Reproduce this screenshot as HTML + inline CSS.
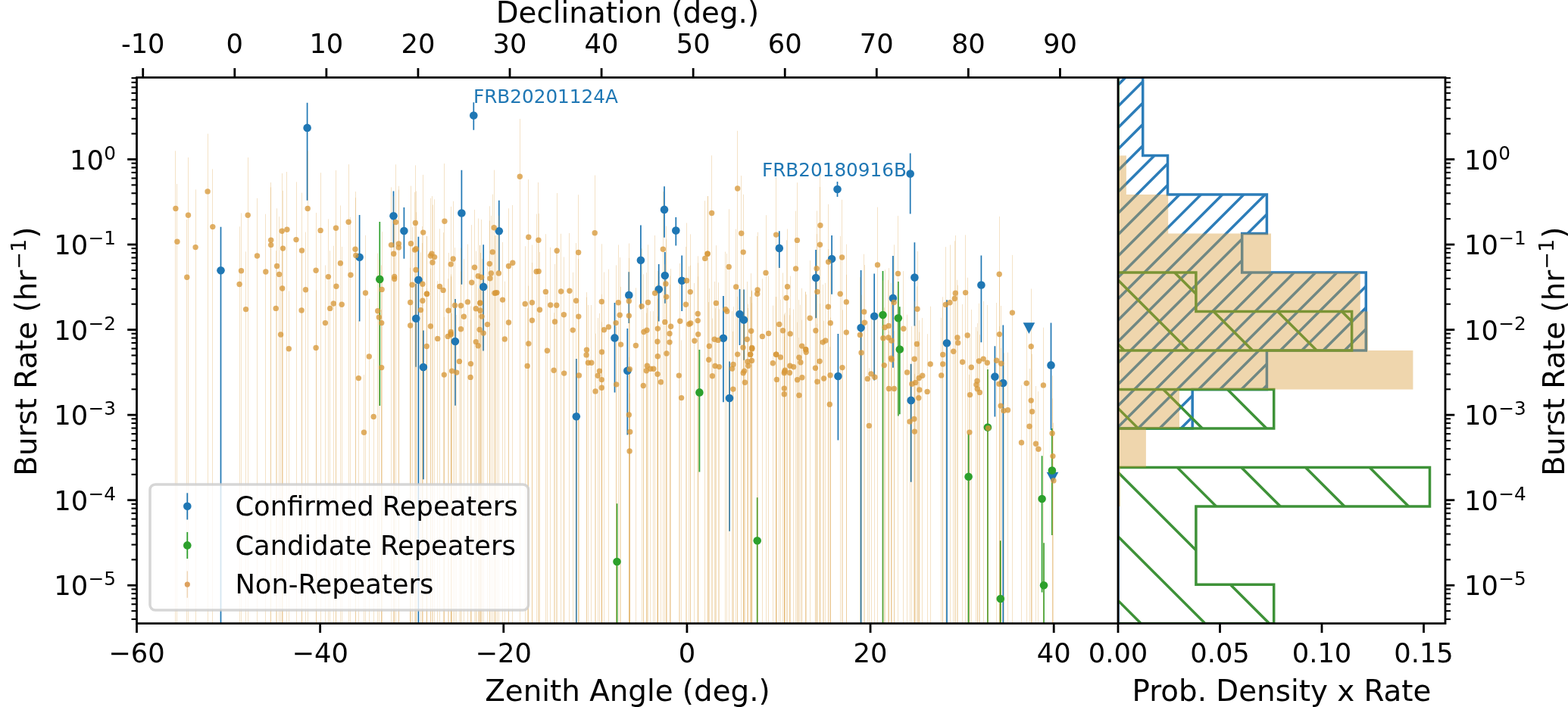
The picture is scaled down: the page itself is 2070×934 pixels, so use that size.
<!DOCTYPE html>
<html lang="en"><head><meta charset="utf-8"><title>Burst Rate vs Zenith Angle</title>
<style>html,body{margin:0;padding:0;background:#fff}body{width:2070px;height:934px;overflow:hidden}svg{display:block}</style>
</head><body>
<svg width="2070" height="934" viewBox="0 0 2070 934" font-family="'DejaVu Sans', 'Liberation Sans', sans-serif">
<rect width="2070" height="934" fill="#fff"/>
<defs>
<clipPath id="cl"><rect x="180.5" y="102.3" width="1295.5" height="721.4000000000001"/></clipPath>
<clipPath id="cr"><rect x="1476.0" y="102.3" width="432.0" height="721.4000000000001"/></clipPath>
<clipPath id="cb"><path d="M1476.0 102.3 L1508.7 102.3 L1508.7 153.8 L1508.7 153.8 L1508.7 205.4 L1541.5 205.4 L1541.5 256.9 L1672.4 256.9 L1672.4 308.4 L1639.7 308.4 L1639.7 359.9 L1803.3 359.9 L1803.3 411.5 L1803.3 411.5 L1803.3 463.0 L1672.4 463.0 L1672.4 514.5 L1574.2 514.5 L1574.2 566.1 L1476.0 566.1 L1476.0 617.6 L1476.0 617.6 L1476.0 669.1 L1476.0 669.1 L1476.0 720.6 L1476.0 720.6 L1476.0 772.2 L1476.0 772.2 L1476.0 823.7 L1476.0 823.7Z"/></clipPath><clipPath id="cg"><path d="M1476.0 102.3 L1476.0 102.3 L1476.0 153.8 L1476.0 153.8 L1476.0 205.4 L1476.0 205.4 L1476.0 256.9 L1476.0 256.9 L1476.0 308.4 L1476.0 308.4 L1476.0 359.9 L1578.9 359.9 L1578.9 411.5 L1784.6 411.5 L1784.6 463.0 L1476.0 463.0 L1476.0 514.5 L1681.7 514.5 L1681.7 566.1 L1476.0 566.1 L1476.0 617.6 L1887.5 617.6 L1887.5 669.1 L1578.9 669.1 L1578.9 720.6 L1578.9 720.6 L1578.9 772.2 L1681.7 772.2 L1681.7 823.7 L1476.0 823.7Z"/></clipPath>
</defs>
<g clip-path="url(#cl)">
<path d="M405.6 135.7V264.8M291.5 299.8V823.7M474.6 284.0V424.6M625.3 135.3V171.7M609.4 224.8V375.7M519.5 252.5V326.6M533.4 273.9V341.8M658.8 264.8V358.2M552.4 312.7V823.7M549.2 375.0V484.8M558.9 436.5V633.3M638.2 323.2V463.5M600.9 394.9V535.7M830.3 359.2V427.0M811.5 399.9V518.4M828.3 434.1V574.5M760.8 473.9V823.7M877.0 246.2V313.7M1105.5 239.9V260.1M892.3 286.9V324.4M845.9 297.4V408.4M877.8 333.1V400.8M869.7 348.9V424.6M900.2 337.4V411.1M954.9 390.9V531.3M976.5 382.0V455.9M982.0 382.6V475.8M1028.8 305.2V353.9M1077.1 329.9V420.3M1098.1 311.1V388.8M1136.6 356.9V823.7M1154.2 361.6V502.6M963.0 477.4V701.8M1106.4 441.0V581.6M1201.7 202.4V282.6M1207.4 320.2V430.6M1178.9 338.0V485.8M1295.4 337.4V452.3M1250.0 396.3V823.7M1202.7 480.8V636.7M1313.4 457.3V550.5M1324.3 429.6V823.7M1387.5 426.6V568.0" stroke="#1f77b4" stroke-width="1.7" fill="none"/><path d="M501.3 292.9V535.9M814.5 665.2V823.7M923.4 461.9V623.6M999.7 657.2V823.7M1165.5 357.9V823.7M1185.8 372.1V549.5M1187.8 405.2V547.2M1278.6 572.9V823.7M1303.9 488.1V823.7M1375.6 602.2V782.6M1378.0 717.3V823.7M1320.8 714.3V823.7M1388.9 566.0V707.0" stroke="#2ca02c" stroke-width="1.7" fill="none"/><g stroke="#d79832" stroke-opacity="0.28" stroke-width="1.0" fill="none"><path d="M231.5 199.3V823.7"/><path d="M248.5 208.0V823.7"/><path d="M274.5 176.7V823.7"/><path d="M327.5 208.0V823.7"/><path d="M406.5 199.3V823.7"/><path d="M280.5 223.4V823.7"/><path d="M233.5 243.0V823.7"/><path d="M258.5 250.4V823.7"/><path d="M246.5 290.0V823.7"/><path d="M339.5 261.8V823.7"/><path d="M357.5 241.0V823.7"/><path d="M357.5 247.4V823.7"/><path d="M372.5 229.0V823.7"/><path d="M378.5 227.0V823.7"/><path d="M373.5 251.9V823.7"/><path d="M391.5 240.4V823.7"/><path d="M398.5 254.7V823.7"/><path d="M423.5 228.2V823.7"/><path d="M443.5 225.0V823.7"/><path d="M460.5 217.1V823.7"/><path d="M469.5 253.1V823.7"/><path d="M469.5 261.2V823.7"/><path d="M449.5 271.5V823.7"/><path d="M365.5 275.3V823.7"/><path d="M368.5 286.2V823.7"/><path d="M350.5 282.8V823.7"/><path d="M318.5 281.5V823.7"/><path d="M316.5 299.3V823.7"/><path d="M372.5 304.8V823.7"/><path d="M403.5 306.6V823.7"/><path d="M417.5 281.1V823.7"/><path d="M433.5 289.4V823.7"/><path d="M443.5 302.1V823.7"/><path d="M462.5 287.0V823.7"/><path d="M482.5 310.8V823.7"/><path d="M504.5 306.2V823.7"/><path d="M440.5 324.8V823.7"/><path d="M451.5 326.0V823.7"/><path d="M435.5 331.2V823.7"/><path d="M398.5 333.8V823.7"/><path d="M364.5 331.2V823.7"/><path d="M324.5 332.4V823.7"/><path d="M429.5 350.4V823.7"/><path d="M370.5 365.8V823.7"/><path d="M381.5 384.5V823.7"/><path d="M417.5 383.3V823.7"/><path d="M498.5 334.5V823.7"/><path d="M500.5 342.9V823.7"/><path d="M503.5 350.4V823.7"/><path d="M487.5 394.7V823.7"/><path d="M503.5 409.4V823.7"/><path d="M473.5 423.4V823.7"/><path d="M493.5 474.3V823.7"/><path d="M480.5 495.1V823.7"/><path d="M686.5 157.1V823.7"/><path d="M522.5 217.3V823.7"/><path d="M548.5 218.3V823.7"/><path d="M586.5 216.1V823.7"/><path d="M652.5 224.6V823.7"/><path d="M558.5 230.9V823.7"/><path d="M697.5 237.1V823.7"/><path d="M710.5 241.0V823.7"/><path d="M785.5 231.5V823.7"/><path d="M516.5 247.4V823.7"/><path d="M526.5 245.8V823.7"/><path d="M526.5 250.7V823.7"/><path d="M542.5 245.6V823.7"/><path d="M547.5 253.9V823.7"/><path d="M549.5 252.5V823.7"/><path d="M519.5 259.1V823.7"/><path d="M735.5 255.1V823.7"/><path d="M763.5 257.3V823.7"/><path d="M650.5 256.7V823.7"/><path d="M570.5 259.1V823.7"/><path d="M568.5 261.8V823.7"/><path d="M573.5 263.4V823.7"/><path d="M598.5 265.8V823.7"/><path d="M571.5 270.6V823.7"/><path d="M595.5 272.9V823.7"/><path d="M646.5 272.3V823.7"/><path d="M676.5 271.0V823.7"/><path d="M671.5 275.3V823.7"/><path d="M626.5 277.1V823.7"/><path d="M549.5 280.3V823.7"/><path d="M648.5 284.8V823.7"/><path d="M658.5 284.8V823.7"/><path d="M708.5 282.6V823.7"/><path d="M711.5 282.2V823.7"/><path d="M520.5 289.2V823.7"/><path d="M520.5 292.3V823.7"/><path d="M631.5 288.6V823.7"/><path d="M635.5 290.0V823.7"/><path d="M646.5 291.6V823.7"/><path d="M544.5 300.1V823.7"/><path d="M557.5 299.1V823.7"/><path d="M622.5 297.1V823.7"/><path d="M580.5 302.3V823.7"/><path d="M585.5 307.2V823.7"/><path d="M563.5 312.0V823.7"/><path d="M653.5 311.0V823.7"/><path d="M656.5 310.4V823.7"/><path d="M720.5 309.2V823.7"/><path d="M740.5 308.8V823.7"/><path d="M751.5 308.0V823.7"/><path d="M541.5 323.3V823.7"/><path d="M557.5 321.1V823.7"/><path d="M617.5 322.7V823.7"/><path d="M663.5 319.9V823.7"/><path d="M633.5 324.0V823.7"/><path d="M693.5 325.2V823.7"/><path d="M702.5 323.5V823.7"/><path d="M760.5 321.1V823.7"/><path d="M794.5 322.3V823.7"/><path d="M816.5 323.5V823.7"/><path d="M830.5 321.5V823.7"/><path d="M600.5 327.2V823.7"/><path d="M608.5 327.6V823.7"/><path d="M726.5 326.8V823.7"/><path d="M734.5 327.0V823.7"/><path d="M628.5 331.6V823.7"/><path d="M634.5 334.0V823.7"/><path d="M592.5 334.0V823.7"/><path d="M555.5 333.4V823.7"/><path d="M712.5 333.0V823.7"/><path d="M612.5 342.1V823.7"/><path d="M636.5 341.9V823.7"/><path d="M744.5 339.5V823.7"/><path d="M763.5 341.9V823.7"/><path d="M818.5 340.1V823.7"/><path d="M830.5 340.9V823.7"/><path d="M541.5 353.8V823.7"/><path d="M568.5 354.8V823.7"/><path d="M643.5 352.4V823.7"/><path d="M671.5 349.8V823.7"/><path d="M702.5 347.0V823.7"/><path d="M732.5 348.8V823.7"/><path d="M813.5 350.4V823.7"/><path d="M608.5 358.5V823.7"/><path d="M633.5 359.3V823.7"/><path d="M638.5 363.9V823.7"/><path d="M595.5 362.3V823.7"/><path d="M595.5 365.8V823.7"/><path d="M591.5 368.2V823.7"/><path d="M756.5 359.9V823.7"/><path d="M797.5 359.5V823.7"/><path d="M803.5 355.7V823.7"/><path d="M577.5 371.2V823.7"/><path d="M666.5 371.8V823.7"/><path d="M628.5 375.4V823.7"/><path d="M631.5 380.5V823.7"/><path d="M563.5 381.3V823.7"/><path d="M697.5 377.7V823.7"/><path d="M819.5 378.9V823.7"/><path d="M839.5 380.3V823.7"/><path d="M722.5 387.0V823.7"/><path d="M774.5 386.1V823.7"/><path d="M794.5 388.8V823.7"/><path d="M563.5 312.0V823.7"/><path d="M654.5 310.8V823.7"/><path d="M633.5 324.0V823.7"/><path d="M595.5 364.7V823.7"/><path d="M606.5 401.2V823.7"/><path d="M621.5 404.4V823.7"/><path d="M596.5 413.9V823.7"/><path d="M602.5 415.9V823.7"/><path d="M586.5 418.9V823.7"/><path d="M621.5 422.2V823.7"/><path d="M696.5 407.2V823.7"/><path d="M774.5 392.7V823.7"/><path d="M776.5 403.0V823.7"/><path d="M780.5 403.0V823.7"/><path d="M731.5 413.1V823.7"/><path d="M744.5 416.9V823.7"/><path d="M764.5 419.7V823.7"/><path d="M791.5 413.9V823.7"/><path d="M789.5 420.1V823.7"/><path d="M794.5 425.4V823.7"/><path d="M794.5 436.1V823.7"/><path d="M786.5 440.7V823.7"/><path d="M813.5 431.7V823.7"/><path d="M831.5 411.5V823.7"/><path d="M830.5 471.8V823.7"/><path d="M831.5 494.3V823.7"/><path d="M831.5 519.7V823.7"/><path d="M973.5 172.8V823.7"/><path d="M939.5 205.3V823.7"/><path d="M1082.5 221.6V823.7"/><path d="M978.5 232.1V823.7"/><path d="M1024.5 233.9V823.7"/><path d="M1052.5 241.2V823.7"/><path d="M1082.5 247.0V823.7"/><path d="M875.5 253.1V823.7"/><path d="M981.5 256.9V823.7"/><path d="M934.5 259.1V823.7"/><path d="M930.5 265.2V823.7"/><path d="M1111.5 263.8V823.7"/><path d="M1093.5 269.8V823.7"/><path d="M1158.5 273.7V823.7"/><path d="M962.5 276.3V823.7"/><path d="M1050.5 278.7V823.7"/><path d="M1078.5 278.5V823.7"/><path d="M1011.5 284.2V823.7"/><path d="M906.5 294.5V823.7"/><path d="M879.5 298.7V823.7"/><path d="M971.5 302.7V823.7"/><path d="M1039.5 302.5V823.7"/><path d="M1000.5 306.8V823.7"/><path d="M999.5 312.0V823.7"/><path d="M911.5 309.4V823.7"/><path d="M864.5 311.0V823.7"/><path d="M879.5 315.9V823.7"/><path d="M1078.5 309.2V823.7"/><path d="M1109.5 312.0V823.7"/><path d="M1038.5 317.3V823.7"/><path d="M855.5 323.3V823.7"/><path d="M847.5 328.4V823.7"/><path d="M905.5 326.0V823.7"/><path d="M945.5 324.2V823.7"/><path d="M1117.5 322.7V823.7"/><path d="M1093.5 329.0V823.7"/><path d="M957.5 332.6V823.7"/><path d="M959.5 335.1V823.7"/><path d="M921.5 338.3V823.7"/><path d="M1140.5 335.7V823.7"/><path d="M1069.5 344.1V823.7"/><path d="M897.5 348.0V823.7"/><path d="M877.5 349.2V823.7"/><path d="M921.5 347.4V823.7"/><path d="M909.5 352.0V823.7"/><path d="M911.5 350.8V823.7"/><path d="M1028.5 352.2V823.7"/><path d="M1096.5 350.6V823.7"/><path d="M1141.5 350.0V823.7"/><path d="M885.5 355.1V823.7"/><path d="M868.5 357.9V823.7"/><path d="M853.5 360.1V823.7"/><path d="M849.5 362.3V823.7"/><path d="M991.5 361.1V823.7"/><path d="M1033.5 360.5V823.7"/><path d="M1076.5 360.5V823.7"/><path d="M1117.5 362.9V823.7"/><path d="M1168.5 356.3V823.7"/><path d="M884.5 364.5V823.7"/><path d="M921.5 365.4V823.7"/><path d="M1014.5 364.3V823.7"/><path d="M1043.5 364.7V823.7"/><path d="M1006.5 368.2V823.7"/><path d="M1135.5 366.2V823.7"/><path d="M943.5 372.0V823.7"/><path d="M948.5 373.2V823.7"/><path d="M986.5 372.0V823.7"/><path d="M916.5 374.0V823.7"/><path d="M867.5 375.0V823.7"/><path d="M884.5 375.9V823.7"/><path d="M1089.5 373.8V823.7"/><path d="M1086.5 375.9V823.7"/><path d="M1165.5 370.6V823.7"/><path d="M936.5 381.1V823.7"/><path d="M981.5 382.9V823.7"/><path d="M992.5 383.3V823.7"/><path d="M992.5 384.9V823.7"/><path d="M1058.5 380.9V823.7"/><path d="M1063.5 385.5V823.7"/><path d="M934.5 259.1V823.7"/><path d="M1063.5 385.5V823.7"/><path d="M992.5 384.1V823.7"/><path d="M880.5 390.7V823.7"/><path d="M868.5 394.5V823.7"/><path d="M854.5 407.0V823.7"/><path d="M858.5 411.1V823.7"/><path d="M862.5 411.1V823.7"/><path d="M853.5 413.5V823.7"/><path d="M868.5 418.1V823.7"/><path d="M872.5 428.6V823.7"/><path d="M849.5 433.3V823.7"/><path d="M896.5 419.9V823.7"/><path d="M899.5 449.4V823.7"/><path d="M935.5 399.1V823.7"/><path d="M944.5 407.2V823.7"/><path d="M949.5 408.4V823.7"/><path d="M940.5 420.6V823.7"/><path d="M973.5 391.9V823.7"/><path d="M968.5 405.2V823.7"/><path d="M966.5 410.9V823.7"/><path d="M967.5 437.9V823.7"/><path d="M990.5 392.1V823.7"/><path d="M992.5 400.2V823.7"/><path d="M987.5 401.6V823.7"/><path d="M987.5 407.0V823.7"/><path d="M982.5 413.9V823.7"/><path d="M981.5 416.5V823.7"/><path d="M983.5 429.0V823.7"/><path d="M1024.5 392.1V823.7"/><path d="M1030.5 395.7V823.7"/><path d="M1020.5 403.6V823.7"/><path d="M1042.5 407.0V823.7"/><path d="M1047.5 408.6V823.7"/><path d="M1036.5 413.1V823.7"/><path d="M1035.5 416.5V823.7"/><path d="M1042.5 416.3V823.7"/><path d="M1025.5 425.2V823.7"/><path d="M1035.5 436.9V823.7"/><path d="M1035.5 444.6V823.7"/><path d="M1054.5 396.1V823.7"/><path d="M1056.5 402.6V823.7"/><path d="M1064.5 389.1V823.7"/><path d="M1058.5 422.6V823.7"/><path d="M1052.5 425.6V823.7"/><path d="M1054.5 446.0V823.7"/><path d="M1082.5 401.0V823.7"/><path d="M1076.5 410.1V823.7"/><path d="M1078.5 428.0V823.7"/><path d="M1087.5 423.8V823.7"/><path d="M1096.5 419.5V823.7"/><path d="M1095.5 458.1V823.7"/><path d="M1112.5 409.4V823.7"/><path d="M1137.5 389.7V823.7"/><path d="M1150.5 417.7V823.7"/><path d="M1154.5 422.0V823.7"/><path d="M1145.5 424.2V823.7"/><path d="M1147.5 486.2V823.7"/><path d="M1167.5 406.4V823.7"/><path d="M990.5 392.1V823.7"/><path d="M1024.5 392.1V823.7"/><path d="M1035.5 414.7V823.7"/><path d="M1185.5 285.2V823.7"/><path d="M1319.5 286.0V823.7"/><path d="M1261.5 311.0V823.7"/><path d="M1274.5 310.4V823.7"/><path d="M1260.5 318.3V823.7"/><path d="M1254.5 323.5V823.7"/><path d="M1248.5 326.2V823.7"/><path d="M1180.5 323.3V823.7"/><path d="M1211.5 332.0V823.7"/><path d="M1336.5 336.9V823.7"/><path d="M1173.5 354.2V823.7"/><path d="M1192.5 358.1V823.7"/><path d="M1172.5 369.8V823.7"/><path d="M1176.5 373.8V823.7"/><path d="M1210.5 378.3V823.7"/><path d="M1277.5 366.8V823.7"/><path d="M1263.5 369.8V823.7"/><path d="M1264.5 376.7V823.7"/><path d="M1319.5 365.4V823.7"/><path d="M1361.5 381.5V823.7"/><path d="M1258.5 388.0V823.7"/><path d="M1244.5 392.3V823.7"/><path d="M1176.5 396.9V823.7"/><path d="M1177.5 398.9V823.7"/><path d="M1207.5 398.1V823.7"/><path d="M1228.5 404.8V823.7"/><path d="M1244.5 404.8V823.7"/><path d="M1270.5 402.0V823.7"/><path d="M1298.5 397.9V823.7"/><path d="M1292.5 400.8V823.7"/><path d="M1303.5 403.0V823.7"/><path d="M1315.5 400.0V823.7"/><path d="M1321.5 404.0V823.7"/><path d="M1282.5 409.0V823.7"/><path d="M1197.5 415.7V823.7"/><path d="M1217.5 420.1V823.7"/><path d="M1213.5 423.2V823.7"/><path d="M1242.5 419.7V823.7"/><path d="M1208.5 429.2V823.7"/><path d="M1203.5 431.1V823.7"/><path d="M1290.5 427.0V823.7"/><path d="M1288.5 432.1V823.7"/><path d="M1290.5 437.5V823.7"/><path d="M1293.5 442.2V823.7"/><path d="M1319.5 431.1V823.7"/><path d="M1355.5 430.0V823.7"/><path d="M1377.5 432.7V823.7"/><path d="M1173.5 437.3V823.7"/><path d="M1180.5 437.3V823.7"/><path d="M1213.5 438.7V823.7"/><path d="M1224.5 441.2V823.7"/><path d="M1212.5 449.6V823.7"/><path d="M1280.5 445.4V823.7"/><path d="M1361.5 452.9V823.7"/><path d="M1321.5 459.9V823.7"/><path d="M1325.5 466.4V823.7"/><path d="M1330.5 465.6V823.7"/><path d="M1362.5 467.6V823.7"/><path d="M1206.5 477.3V823.7"/><path d="M1201.5 480.7V823.7"/><path d="M1359.5 487.0V823.7"/><path d="M1207.5 493.9V823.7"/><path d="M1279.5 494.9V823.7"/><path d="M1304.5 489.4V823.7"/><path d="M1389.5 496.3V823.7"/><path d="M1348.5 508.6V823.7"/><path d="M1367.5 510.0V823.7"/><path d="M1370.5 517.1V823.7"/><path d="M1389.5 526.4V823.7"/><path d="M1390.5 558.7V823.7"/></g><g fill="#1f77b4"><circle cx="405.6" cy="168.9" r="5.3"/><circle cx="291.5" cy="357.3" r="5.3"/><circle cx="474.6" cy="339.8" r="5.3"/><circle cx="625.3" cy="152.5" r="5.3"/><circle cx="609.4" cy="281.5" r="5.3"/><circle cx="519.5" cy="285.3" r="5.3"/><circle cx="533.4" cy="305.0" r="5.3"/><circle cx="658.8" cy="305.2" r="5.3"/><circle cx="552.4" cy="369.7" r="5.3"/><circle cx="549.2" cy="420.7" r="5.3"/><circle cx="558.9" cy="485.0" r="5.3"/><circle cx="638.2" cy="378.9" r="5.3"/><circle cx="600.9" cy="451.0" r="5.3"/><circle cx="830.3" cy="389.9" r="5.3"/><circle cx="811.5" cy="446.4" r="5.3"/><circle cx="828.3" cy="489.7" r="5.3"/><circle cx="760.8" cy="550.3" r="5.3"/><circle cx="877.0" cy="276.9" r="5.3"/><circle cx="1105.5" cy="250.0" r="5.3"/><circle cx="892.3" cy="304.6" r="5.3"/><circle cx="845.9" cy="343.8" r="5.3"/><circle cx="877.8" cy="364.0" r="5.3"/><circle cx="869.7" cy="382.2" r="5.3"/><circle cx="900.2" cy="370.7" r="5.3"/><circle cx="954.9" cy="446.8" r="5.3"/><circle cx="976.5" cy="415.1" r="5.3"/><circle cx="982.0" cy="422.6" r="5.3"/><circle cx="1028.8" cy="327.9" r="5.3"/><circle cx="1077.1" cy="367.0" r="5.3"/><circle cx="1098.1" cy="342.0" r="5.3"/><circle cx="1136.6" cy="433.1" r="5.3"/><circle cx="1154.2" cy="417.7" r="5.3"/><circle cx="963.0" cy="526.0" r="5.3"/><circle cx="1106.4" cy="497.0" r="5.3"/><circle cx="1201.7" cy="229.6" r="5.3"/><circle cx="1207.4" cy="366.6" r="5.3"/><circle cx="1178.9" cy="393.9" r="5.3"/><circle cx="1295.4" cy="376.5" r="5.3"/><circle cx="1250.0" cy="453.3" r="5.3"/><circle cx="1202.7" cy="528.9" r="5.3"/><circle cx="1313.4" cy="497.6" r="5.3"/><circle cx="1324.3" cy="506.0" r="5.3"/><circle cx="1387.5" cy="482.4" r="5.3"/><path d="M1350.6 426.2h15.6L1358.4 441.0Z"/><path d="M1381.7 623.8h15.6L1389.5 638.6Z"/></g><g fill="#2ca02c"><circle cx="501.3" cy="368.9" r="5.3"/><circle cx="814.5" cy="742.0" r="5.3"/><circle cx="923.4" cy="518.4" r="5.3"/><circle cx="999.7" cy="714.3" r="5.3"/><circle cx="1165.5" cy="416.1" r="5.3"/><circle cx="1185.8" cy="420.3" r="5.3"/><circle cx="1187.8" cy="461.5" r="5.3"/><circle cx="1278.6" cy="629.8" r="5.3"/><circle cx="1303.9" cy="564.6" r="5.3"/><circle cx="1375.6" cy="659.0" r="5.3"/><circle cx="1378.0" cy="773.3" r="5.3"/><circle cx="1320.8" cy="791.0" r="5.3"/><circle cx="1388.9" cy="621.5" r="5.3"/></g><g fill="#d7983a" fill-opacity="0.78"><circle cx="231.9" cy="275.5" r="3.7"/><circle cx="248.5" cy="284.2" r="3.7"/><circle cx="274.1" cy="252.9" r="3.7"/><circle cx="327.2" cy="284.2" r="3.7"/><circle cx="406.2" cy="275.5" r="3.7"/><circle cx="280.8" cy="299.6" r="3.7"/><circle cx="233.9" cy="319.2" r="3.7"/><circle cx="258.1" cy="326.6" r="3.7"/><circle cx="246.8" cy="366.2" r="3.7"/><circle cx="339.5" cy="338.0" r="3.7"/><circle cx="357.7" cy="317.2" r="3.7"/><circle cx="357.7" cy="323.6" r="3.7"/><circle cx="372.2" cy="305.2" r="3.7"/><circle cx="378.9" cy="303.2" r="3.7"/><circle cx="373.5" cy="328.1" r="3.7"/><circle cx="391.0" cy="316.6" r="3.7"/><circle cx="398.5" cy="330.9" r="3.7"/><circle cx="423.1" cy="304.4" r="3.7"/><circle cx="443.5" cy="301.2" r="3.7"/><circle cx="460.1" cy="293.3" r="3.7"/><circle cx="469.0" cy="329.3" r="3.7"/><circle cx="469.8" cy="337.4" r="3.7"/><circle cx="449.4" cy="347.7" r="3.7"/><circle cx="365.6" cy="351.5" r="3.7"/><circle cx="368.6" cy="362.4" r="3.7"/><circle cx="350.8" cy="359.0" r="3.7"/><circle cx="318.5" cy="357.7" r="3.7"/><circle cx="316.1" cy="375.5" r="3.7"/><circle cx="372.7" cy="381.0" r="3.7"/><circle cx="403.5" cy="382.8" r="3.7"/><circle cx="417.1" cy="357.3" r="3.7"/><circle cx="433.4" cy="365.6" r="3.7"/><circle cx="443.9" cy="378.3" r="3.7"/><circle cx="462.9" cy="363.2" r="3.7"/><circle cx="482.5" cy="387.0" r="3.7"/><circle cx="504.1" cy="382.4" r="3.7"/><circle cx="440.3" cy="401.0" r="3.7"/><circle cx="451.2" cy="402.2" r="3.7"/><circle cx="435.7" cy="407.4" r="3.7"/><circle cx="398.1" cy="410.0" r="3.7"/><circle cx="364.2" cy="407.4" r="3.7"/><circle cx="324.6" cy="408.6" r="3.7"/><circle cx="429.4" cy="426.6" r="3.7"/><circle cx="370.6" cy="442.0" r="3.7"/><circle cx="381.3" cy="460.7" r="3.7"/><circle cx="417.1" cy="459.5" r="3.7"/><circle cx="498.7" cy="410.7" r="3.7"/><circle cx="500.3" cy="419.1" r="3.7"/><circle cx="503.7" cy="426.6" r="3.7"/><circle cx="487.3" cy="470.9" r="3.7"/><circle cx="503.7" cy="485.6" r="3.7"/><circle cx="473.4" cy="499.6" r="3.7"/><circle cx="493.2" cy="550.5" r="3.7"/><circle cx="480.5" cy="571.3" r="3.7"/><circle cx="686.3" cy="233.3" r="3.7"/><circle cx="522.5" cy="293.5" r="3.7"/><circle cx="548.4" cy="294.5" r="3.7"/><circle cx="586.9" cy="292.3" r="3.7"/><circle cx="652.2" cy="300.8" r="3.7"/><circle cx="558.7" cy="307.1" r="3.7"/><circle cx="697.8" cy="313.3" r="3.7"/><circle cx="710.9" cy="317.2" r="3.7"/><circle cx="785.2" cy="307.7" r="3.7"/><circle cx="516.5" cy="323.6" r="3.7"/><circle cx="526.4" cy="322.0" r="3.7"/><circle cx="526.4" cy="326.9" r="3.7"/><circle cx="542.5" cy="321.8" r="3.7"/><circle cx="547.6" cy="330.1" r="3.7"/><circle cx="549.2" cy="328.7" r="3.7"/><circle cx="519.7" cy="335.3" r="3.7"/><circle cx="735.2" cy="331.3" r="3.7"/><circle cx="763.6" cy="333.5" r="3.7"/><circle cx="650.3" cy="332.9" r="3.7"/><circle cx="570.0" cy="335.3" r="3.7"/><circle cx="568.4" cy="338.0" r="3.7"/><circle cx="573.6" cy="339.6" r="3.7"/><circle cx="598.2" cy="342.0" r="3.7"/><circle cx="571.0" cy="346.8" r="3.7"/><circle cx="595.2" cy="349.1" r="3.7"/><circle cx="646.3" cy="348.5" r="3.7"/><circle cx="676.8" cy="347.2" r="3.7"/><circle cx="671.5" cy="351.5" r="3.7"/><circle cx="626.5" cy="353.3" r="3.7"/><circle cx="549.0" cy="356.5" r="3.7"/><circle cx="648.3" cy="361.0" r="3.7"/><circle cx="658.4" cy="361.0" r="3.7"/><circle cx="708.1" cy="358.8" r="3.7"/><circle cx="711.1" cy="358.4" r="3.7"/><circle cx="520.7" cy="365.4" r="3.7"/><circle cx="520.7" cy="368.5" r="3.7"/><circle cx="631.2" cy="364.8" r="3.7"/><circle cx="635.6" cy="366.2" r="3.7"/><circle cx="646.9" cy="367.8" r="3.7"/><circle cx="544.1" cy="376.3" r="3.7"/><circle cx="557.9" cy="375.3" r="3.7"/><circle cx="622.7" cy="373.3" r="3.7"/><circle cx="580.5" cy="378.5" r="3.7"/><circle cx="585.1" cy="383.4" r="3.7"/><circle cx="563.5" cy="388.2" r="3.7"/><circle cx="653.0" cy="387.2" r="3.7"/><circle cx="656.0" cy="386.6" r="3.7"/><circle cx="720.4" cy="385.4" r="3.7"/><circle cx="740.6" cy="385.0" r="3.7"/><circle cx="751.9" cy="384.2" r="3.7"/><circle cx="541.7" cy="399.5" r="3.7"/><circle cx="557.9" cy="397.3" r="3.7"/><circle cx="617.4" cy="398.9" r="3.7"/><circle cx="663.5" cy="396.1" r="3.7"/><circle cx="633.8" cy="400.2" r="3.7"/><circle cx="693.2" cy="401.4" r="3.7"/><circle cx="702.4" cy="399.7" r="3.7"/><circle cx="760.6" cy="397.3" r="3.7"/><circle cx="794.3" cy="398.5" r="3.7"/><circle cx="816.3" cy="399.7" r="3.7"/><circle cx="830.3" cy="397.7" r="3.7"/><circle cx="600.5" cy="403.4" r="3.7"/><circle cx="608.5" cy="403.8" r="3.7"/><circle cx="726.7" cy="403.0" r="3.7"/><circle cx="734.8" cy="403.2" r="3.7"/><circle cx="628.3" cy="407.8" r="3.7"/><circle cx="634.0" cy="410.2" r="3.7"/><circle cx="592.0" cy="410.2" r="3.7"/><circle cx="555.4" cy="409.6" r="3.7"/><circle cx="712.5" cy="409.2" r="3.7"/><circle cx="612.4" cy="418.3" r="3.7"/><circle cx="636.0" cy="418.1" r="3.7"/><circle cx="744.4" cy="415.7" r="3.7"/><circle cx="763.8" cy="418.1" r="3.7"/><circle cx="818.2" cy="416.3" r="3.7"/><circle cx="830.3" cy="417.1" r="3.7"/><circle cx="541.7" cy="430.0" r="3.7"/><circle cx="568.4" cy="431.0" r="3.7"/><circle cx="643.5" cy="428.6" r="3.7"/><circle cx="671.5" cy="426.0" r="3.7"/><circle cx="702.4" cy="423.2" r="3.7"/><circle cx="732.5" cy="425.0" r="3.7"/><circle cx="813.1" cy="426.6" r="3.7"/><circle cx="608.5" cy="434.7" r="3.7"/><circle cx="633.2" cy="435.5" r="3.7"/><circle cx="638.2" cy="440.1" r="3.7"/><circle cx="595.2" cy="438.5" r="3.7"/><circle cx="595.2" cy="442.0" r="3.7"/><circle cx="591.2" cy="444.4" r="3.7"/><circle cx="756.2" cy="436.1" r="3.7"/><circle cx="797.4" cy="435.7" r="3.7"/><circle cx="803.4" cy="431.9" r="3.7"/><circle cx="577.7" cy="447.4" r="3.7"/><circle cx="666.3" cy="448.0" r="3.7"/><circle cx="628.3" cy="451.6" r="3.7"/><circle cx="631.2" cy="456.7" r="3.7"/><circle cx="563.3" cy="457.5" r="3.7"/><circle cx="697.8" cy="453.9" r="3.7"/><circle cx="819.6" cy="455.1" r="3.7"/><circle cx="839.4" cy="456.5" r="3.7"/><circle cx="722.4" cy="463.2" r="3.7"/><circle cx="774.5" cy="462.3" r="3.7"/><circle cx="794.5" cy="465.0" r="3.7"/><circle cx="563.5" cy="388.2" r="3.7"/><circle cx="654.4" cy="387.0" r="3.7"/><circle cx="633.8" cy="400.2" r="3.7"/><circle cx="595.2" cy="440.9" r="3.7"/><circle cx="606.5" cy="477.4" r="3.7"/><circle cx="621.5" cy="480.6" r="3.7"/><circle cx="596.6" cy="490.1" r="3.7"/><circle cx="602.7" cy="492.1" r="3.7"/><circle cx="586.3" cy="495.1" r="3.7"/><circle cx="621.1" cy="498.4" r="3.7"/><circle cx="696.2" cy="483.4" r="3.7"/><circle cx="774.1" cy="468.9" r="3.7"/><circle cx="776.4" cy="479.2" r="3.7"/><circle cx="780.8" cy="479.2" r="3.7"/><circle cx="731.1" cy="489.3" r="3.7"/><circle cx="744.7" cy="493.1" r="3.7"/><circle cx="764.4" cy="495.9" r="3.7"/><circle cx="791.5" cy="490.1" r="3.7"/><circle cx="789.3" cy="496.3" r="3.7"/><circle cx="794.3" cy="501.6" r="3.7"/><circle cx="794.3" cy="512.3" r="3.7"/><circle cx="786.0" cy="516.9" r="3.7"/><circle cx="813.7" cy="507.9" r="3.7"/><circle cx="831.3" cy="487.7" r="3.7"/><circle cx="830.3" cy="548.0" r="3.7"/><circle cx="831.7" cy="570.5" r="3.7"/><circle cx="831.1" cy="595.9" r="3.7"/><circle cx="973.7" cy="249.0" r="3.7"/><circle cx="939.6" cy="281.5" r="3.7"/><circle cx="1082.9" cy="297.8" r="3.7"/><circle cx="978.7" cy="308.3" r="3.7"/><circle cx="1024.6" cy="310.1" r="3.7"/><circle cx="1052.4" cy="317.4" r="3.7"/><circle cx="1082.5" cy="323.2" r="3.7"/><circle cx="875.3" cy="329.3" r="3.7"/><circle cx="981.2" cy="333.1" r="3.7"/><circle cx="934.1" cy="335.3" r="3.7"/><circle cx="930.7" cy="341.4" r="3.7"/><circle cx="1111.6" cy="340.0" r="3.7"/><circle cx="1093.6" cy="346.0" r="3.7"/><circle cx="1158.5" cy="349.9" r="3.7"/><circle cx="962.2" cy="352.5" r="3.7"/><circle cx="1050.6" cy="354.9" r="3.7"/><circle cx="1078.1" cy="354.7" r="3.7"/><circle cx="1011.0" cy="360.4" r="3.7"/><circle cx="906.6" cy="370.7" r="3.7"/><circle cx="879.0" cy="374.9" r="3.7"/><circle cx="971.7" cy="378.9" r="3.7"/><circle cx="1039.5" cy="378.7" r="3.7"/><circle cx="1000.1" cy="383.0" r="3.7"/><circle cx="999.7" cy="388.2" r="3.7"/><circle cx="911.3" cy="385.6" r="3.7"/><circle cx="864.6" cy="387.2" r="3.7"/><circle cx="879.8" cy="392.1" r="3.7"/><circle cx="1078.9" cy="385.4" r="3.7"/><circle cx="1109.2" cy="388.2" r="3.7"/><circle cx="1038.1" cy="393.5" r="3.7"/><circle cx="855.5" cy="399.5" r="3.7"/><circle cx="847.1" cy="404.6" r="3.7"/><circle cx="905.4" cy="402.2" r="3.7"/><circle cx="945.4" cy="400.4" r="3.7"/><circle cx="1117.3" cy="398.9" r="3.7"/><circle cx="1093.4" cy="405.2" r="3.7"/><circle cx="957.9" cy="408.8" r="3.7"/><circle cx="959.8" cy="411.3" r="3.7"/><circle cx="921.2" cy="414.5" r="3.7"/><circle cx="1140.7" cy="411.9" r="3.7"/><circle cx="1069.2" cy="420.3" r="3.7"/><circle cx="897.8" cy="424.2" r="3.7"/><circle cx="877.8" cy="425.4" r="3.7"/><circle cx="921.2" cy="423.6" r="3.7"/><circle cx="909.7" cy="428.2" r="3.7"/><circle cx="911.7" cy="427.0" r="3.7"/><circle cx="1028.8" cy="428.4" r="3.7"/><circle cx="1096.3" cy="426.8" r="3.7"/><circle cx="1141.3" cy="426.2" r="3.7"/><circle cx="885.6" cy="431.3" r="3.7"/><circle cx="868.3" cy="434.1" r="3.7"/><circle cx="853.9" cy="436.3" r="3.7"/><circle cx="849.9" cy="438.5" r="3.7"/><circle cx="991.7" cy="437.3" r="3.7"/><circle cx="1033.5" cy="436.7" r="3.7"/><circle cx="1076.9" cy="436.7" r="3.7"/><circle cx="1117.3" cy="439.1" r="3.7"/><circle cx="1168.2" cy="432.5" r="3.7"/><circle cx="884.0" cy="440.7" r="3.7"/><circle cx="921.6" cy="441.6" r="3.7"/><circle cx="1014.7" cy="440.5" r="3.7"/><circle cx="1043.2" cy="440.9" r="3.7"/><circle cx="1006.4" cy="444.4" r="3.7"/><circle cx="1135.4" cy="442.4" r="3.7"/><circle cx="943.2" cy="448.2" r="3.7"/><circle cx="948.0" cy="449.4" r="3.7"/><circle cx="986.2" cy="448.2" r="3.7"/><circle cx="916.9" cy="450.2" r="3.7"/><circle cx="867.9" cy="451.2" r="3.7"/><circle cx="884.0" cy="452.1" r="3.7"/><circle cx="1089.8" cy="450.0" r="3.7"/><circle cx="1086.2" cy="452.1" r="3.7"/><circle cx="1165.9" cy="446.8" r="3.7"/><circle cx="936.3" cy="457.3" r="3.7"/><circle cx="981.0" cy="459.1" r="3.7"/><circle cx="992.7" cy="459.5" r="3.7"/><circle cx="992.7" cy="461.1" r="3.7"/><circle cx="1058.7" cy="457.1" r="3.7"/><circle cx="1063.7" cy="461.7" r="3.7"/><circle cx="934.1" cy="335.3" r="3.7"/><circle cx="1063.7" cy="461.7" r="3.7"/><circle cx="992.7" cy="460.3" r="3.7"/><circle cx="880.0" cy="466.9" r="3.7"/><circle cx="868.3" cy="470.7" r="3.7"/><circle cx="854.3" cy="483.2" r="3.7"/><circle cx="858.8" cy="487.3" r="3.7"/><circle cx="862.8" cy="487.3" r="3.7"/><circle cx="853.3" cy="489.7" r="3.7"/><circle cx="868.1" cy="494.3" r="3.7"/><circle cx="872.5" cy="504.8" r="3.7"/><circle cx="849.3" cy="509.5" r="3.7"/><circle cx="896.3" cy="496.1" r="3.7"/><circle cx="899.6" cy="525.6" r="3.7"/><circle cx="935.7" cy="475.3" r="3.7"/><circle cx="944.0" cy="483.4" r="3.7"/><circle cx="949.5" cy="484.6" r="3.7"/><circle cx="940.4" cy="496.8" r="3.7"/><circle cx="973.7" cy="468.1" r="3.7"/><circle cx="968.0" cy="481.4" r="3.7"/><circle cx="966.6" cy="487.1" r="3.7"/><circle cx="967.8" cy="514.1" r="3.7"/><circle cx="990.6" cy="468.3" r="3.7"/><circle cx="992.5" cy="476.4" r="3.7"/><circle cx="987.0" cy="477.8" r="3.7"/><circle cx="987.8" cy="483.2" r="3.7"/><circle cx="982.6" cy="490.1" r="3.7"/><circle cx="981.2" cy="492.7" r="3.7"/><circle cx="983.4" cy="505.2" r="3.7"/><circle cx="1024.6" cy="468.3" r="3.7"/><circle cx="1030.4" cy="471.9" r="3.7"/><circle cx="1020.3" cy="479.8" r="3.7"/><circle cx="1042.9" cy="483.2" r="3.7"/><circle cx="1047.6" cy="484.8" r="3.7"/><circle cx="1036.3" cy="489.3" r="3.7"/><circle cx="1035.3" cy="492.7" r="3.7"/><circle cx="1042.5" cy="492.5" r="3.7"/><circle cx="1025.4" cy="501.4" r="3.7"/><circle cx="1035.3" cy="513.1" r="3.7"/><circle cx="1035.3" cy="520.8" r="3.7"/><circle cx="1054.9" cy="472.3" r="3.7"/><circle cx="1056.9" cy="478.8" r="3.7"/><circle cx="1064.2" cy="465.3" r="3.7"/><circle cx="1058.9" cy="498.8" r="3.7"/><circle cx="1052.6" cy="501.8" r="3.7"/><circle cx="1054.9" cy="522.2" r="3.7"/><circle cx="1082.1" cy="477.2" r="3.7"/><circle cx="1076.5" cy="486.3" r="3.7"/><circle cx="1078.9" cy="504.2" r="3.7"/><circle cx="1087.6" cy="500.0" r="3.7"/><circle cx="1096.1" cy="495.7" r="3.7"/><circle cx="1095.3" cy="534.3" r="3.7"/><circle cx="1112.0" cy="485.6" r="3.7"/><circle cx="1137.1" cy="465.9" r="3.7"/><circle cx="1150.0" cy="493.9" r="3.7"/><circle cx="1154.8" cy="498.2" r="3.7"/><circle cx="1145.3" cy="500.4" r="3.7"/><circle cx="1147.3" cy="562.4" r="3.7"/><circle cx="1167.3" cy="482.6" r="3.7"/><circle cx="990.6" cy="468.3" r="3.7"/><circle cx="1024.6" cy="468.3" r="3.7"/><circle cx="1035.7" cy="490.9" r="3.7"/><circle cx="1185.5" cy="361.4" r="3.7"/><circle cx="1319.2" cy="362.2" r="3.7"/><circle cx="1261.3" cy="387.2" r="3.7"/><circle cx="1274.6" cy="386.6" r="3.7"/><circle cx="1260.3" cy="394.5" r="3.7"/><circle cx="1254.0" cy="399.7" r="3.7"/><circle cx="1248.4" cy="402.4" r="3.7"/><circle cx="1180.3" cy="399.5" r="3.7"/><circle cx="1211.0" cy="408.2" r="3.7"/><circle cx="1336.4" cy="413.1" r="3.7"/><circle cx="1173.2" cy="430.4" r="3.7"/><circle cx="1192.8" cy="434.3" r="3.7"/><circle cx="1172.8" cy="446.0" r="3.7"/><circle cx="1176.9" cy="450.0" r="3.7"/><circle cx="1210.4" cy="454.5" r="3.7"/><circle cx="1277.2" cy="443.0" r="3.7"/><circle cx="1263.9" cy="446.0" r="3.7"/><circle cx="1264.7" cy="452.9" r="3.7"/><circle cx="1319.4" cy="441.6" r="3.7"/><circle cx="1361.2" cy="457.7" r="3.7"/><circle cx="1258.7" cy="464.2" r="3.7"/><circle cx="1244.7" cy="468.5" r="3.7"/><circle cx="1176.3" cy="473.1" r="3.7"/><circle cx="1177.1" cy="475.1" r="3.7"/><circle cx="1207.2" cy="474.3" r="3.7"/><circle cx="1228.2" cy="481.0" r="3.7"/><circle cx="1244.7" cy="481.0" r="3.7"/><circle cx="1270.6" cy="478.2" r="3.7"/><circle cx="1298.2" cy="474.1" r="3.7"/><circle cx="1292.4" cy="477.0" r="3.7"/><circle cx="1303.3" cy="479.2" r="3.7"/><circle cx="1315.6" cy="476.2" r="3.7"/><circle cx="1321.7" cy="480.2" r="3.7"/><circle cx="1282.3" cy="485.2" r="3.7"/><circle cx="1197.5" cy="491.9" r="3.7"/><circle cx="1217.7" cy="496.3" r="3.7"/><circle cx="1213.2" cy="499.4" r="3.7"/><circle cx="1242.7" cy="495.9" r="3.7"/><circle cx="1208.6" cy="505.4" r="3.7"/><circle cx="1203.9" cy="507.3" r="3.7"/><circle cx="1290.0" cy="503.2" r="3.7"/><circle cx="1288.9" cy="508.3" r="3.7"/><circle cx="1290.2" cy="513.7" r="3.7"/><circle cx="1293.4" cy="518.4" r="3.7"/><circle cx="1319.0" cy="507.3" r="3.7"/><circle cx="1355.2" cy="506.2" r="3.7"/><circle cx="1377.4" cy="508.9" r="3.7"/><circle cx="1173.4" cy="513.5" r="3.7"/><circle cx="1180.5" cy="513.5" r="3.7"/><circle cx="1213.8" cy="514.9" r="3.7"/><circle cx="1224.1" cy="517.4" r="3.7"/><circle cx="1212.8" cy="525.8" r="3.7"/><circle cx="1280.5" cy="521.6" r="3.7"/><circle cx="1361.2" cy="529.1" r="3.7"/><circle cx="1321.1" cy="536.1" r="3.7"/><circle cx="1325.1" cy="542.6" r="3.7"/><circle cx="1330.5" cy="541.8" r="3.7"/><circle cx="1362.6" cy="543.8" r="3.7"/><circle cx="1206.8" cy="553.5" r="3.7"/><circle cx="1201.1" cy="556.9" r="3.7"/><circle cx="1359.0" cy="563.2" r="3.7"/><circle cx="1207.4" cy="570.1" r="3.7"/><circle cx="1279.9" cy="571.1" r="3.7"/><circle cx="1304.5" cy="565.6" r="3.7"/><circle cx="1389.1" cy="572.5" r="3.7"/><circle cx="1348.5" cy="584.8" r="3.7"/><circle cx="1367.5" cy="586.2" r="3.7"/><circle cx="1370.9" cy="593.3" r="3.7"/><circle cx="1389.9" cy="602.6" r="3.7"/><circle cx="1390.9" cy="634.9" r="3.7"/></g>
</g>
<g clip-path="url(#cr)">
<g clip-path="url(#cb)"><path d="M1471.0 117.2L1913.0 -324.8M1471.0 145.5L1913.0 -296.5M1471.0 173.8L1913.0 -268.2M1471.0 202.0L1913.0 -240.0M1471.0 230.2L1913.0 -211.8M1471.0 258.5L1913.0 -183.5M1471.0 286.8L1913.0 -155.2M1471.0 315.0L1913.0 -127.0M1471.0 343.2L1913.0 -98.8M1471.0 371.5L1913.0 -70.5M1471.0 399.8L1913.0 -42.2M1471.0 428.0L1913.0 -14.0M1471.0 456.2L1913.0 14.2M1471.0 484.5L1913.0 42.5M1471.0 512.8L1913.0 70.8M1471.0 541.0L1913.0 99.0M1471.0 569.2L1913.0 127.2M1471.0 597.5L1913.0 155.5M1471.0 625.8L1913.0 183.8M1471.0 654.0L1913.0 212.0M1471.0 682.2L1913.0 240.2M1471.0 710.5L1913.0 268.5M1471.0 738.8L1913.0 296.8M1471.0 767.0L1913.0 325.0M1471.0 795.2L1913.0 353.2M1471.0 823.5L1913.0 381.5M1471.0 851.8L1913.0 409.8M1471.0 880.0L1913.0 438.0M1471.0 908.2L1913.0 466.2M1471.0 936.5L1913.0 494.5M1471.0 964.8L1913.0 522.8M1471.0 993.0L1913.0 551.0M1471.0 1021.2L1913.0 579.2M1471.0 1049.5L1913.0 607.5M1471.0 1077.8L1913.0 635.8M1471.0 1106.0L1913.0 664.0M1471.0 1134.2L1913.0 692.2M1471.0 1162.5L1913.0 720.5M1471.0 1190.8L1913.0 748.8M1471.0 1219.0L1913.0 777.0M1471.0 1247.2L1913.0 805.2M1471.0 1275.5L1913.0 833.5" stroke="#2c7db9" stroke-width="3.5" fill="none"/></g><path d="M1476.0 102.3 L1508.7 102.3 L1508.7 153.8 L1508.7 153.8 L1508.7 205.4 L1541.5 205.4 L1541.5 256.9 L1672.4 256.9 L1672.4 308.4 L1639.7 308.4 L1639.7 359.9 L1803.3 359.9 L1803.3 411.5 L1803.3 411.5 L1803.3 463.0 L1672.4 463.0 L1672.4 514.5 L1574.2 514.5 L1574.2 566.1 L1476.0 566.1 L1476.0 617.6 L1476.0 617.6 L1476.0 669.1 L1476.0 669.1 L1476.0 720.6 L1476.0 720.6 L1476.0 772.2 L1476.0 772.2 L1476.0 823.7 L1476.0 823.7" stroke="#2c7db9" stroke-width="3.5" fill="none" stroke-linejoin="miter"/><g clip-path="url(#cg)"><path d="M1471.0 788.4L1913.0 1230.4M1471.0 703.7L1913.0 1145.7M1471.0 619.0L1913.0 1061.0M1471.0 534.4L1913.0 976.4M1471.0 449.7L1913.0 891.7M1471.0 365.0L1913.0 807.0M1471.0 280.4L1913.0 722.4M1471.0 195.7L1913.0 637.7M1471.0 111.0L1913.0 553.0M1471.0 26.4L1913.0 468.4M1471.0 -58.3L1913.0 383.7M1471.0 -143.0L1913.0 299.0M1471.0 -227.6L1913.0 214.4M1471.0 -312.3L1913.0 129.7" stroke="#3e9238" stroke-width="3.5" fill="none"/></g><path d="M1476.0 102.3 L1476.0 102.3 L1476.0 153.8 L1476.0 153.8 L1476.0 205.4 L1476.0 205.4 L1476.0 256.9 L1476.0 256.9 L1476.0 308.4 L1476.0 308.4 L1476.0 359.9 L1578.9 359.9 L1578.9 411.5 L1784.6 411.5 L1784.6 463.0 L1476.0 463.0 L1476.0 514.5 L1681.7 514.5 L1681.7 566.1 L1476.0 566.1 L1476.0 617.6 L1887.5 617.6 L1887.5 669.1 L1578.9 669.1 L1578.9 720.6 L1578.9 720.6 L1578.9 772.2 L1681.7 772.2 L1681.7 823.7 L1476.0 823.7" stroke="#3e9238" stroke-width="3.5" fill="none" stroke-linejoin="miter"/><path d="M1476.0 102.3 L1476.0 102.3 L1476.0 153.8 L1476.0 153.8 L1476.0 205.4 L1486.9 205.4 L1486.9 256.9 L1542.2 256.9 L1542.2 308.4 L1678.0 308.4 L1678.0 359.9 L1795.8 359.9 L1795.8 411.5 L1806.0 411.5 L1806.0 463.0 L1865.4 463.0 L1865.4 514.5 L1557.0 514.5 L1557.0 566.1 L1512.9 566.1 L1512.9 617.6 L1479.0 617.6 L1479.0 669.1 L1476.0 669.1 L1476.0 720.6 L1476.0 720.6 L1476.0 772.2 L1476.0 772.2 L1476.0 823.7 L1476.0 823.7Z" fill="#d79832" fill-opacity="0.4" stroke="none"/>
</g>
<rect x="198.0" y="639.9" width="499.5" height="166.10000000000002" rx="7" ry="7" fill="#fff" fill-opacity="0.8" stroke="#ccc" stroke-opacity="0.8" stroke-width="3.5"/><path d="M247.3 651.3V686.5" stroke="#1f77b4" stroke-width="1.8"/><circle cx="247.3" cy="668.8" r="5.3" fill="#1f77b4"/><path d="M247.3 702.9V738.1" stroke="#2ca02c" stroke-width="1.8"/><circle cx="247.3" cy="720.4" r="5.3" fill="#2ca02c"/><path d="M247.3 754.5V789.7" stroke="#dda15e" stroke-opacity="0.5" stroke-width="1.2"/><circle cx="247.3" cy="772.1" r="3.6" fill="#dda15e"/><text x="310.4" y="681.3" font-size="35.3">Confirmed Repeaters</text><text x="310.4" y="732.7" font-size="35.3">Candidate Repeaters</text><text x="310.4" y="784.4" font-size="35.3">Non-Repeaters</text>
<text x="180.5" y="874.5" font-size="35.3" text-anchor="middle">−60</text>
<text x="422.64" y="874.5" font-size="35.3" text-anchor="middle">−40</text>
<text x="664.78" y="874.5" font-size="35.3" text-anchor="middle">−20</text>
<text x="906.92" y="874.5" font-size="35.3" text-anchor="middle">0</text>
<text x="1149.06" y="874.5" font-size="35.3" text-anchor="middle">20</text>
<text x="1391.2" y="874.5" font-size="35.3" text-anchor="middle">40</text>
<text x="188.73" y="69.8" font-size="35.3" text-anchor="middle">-10</text>
<text x="309.8" y="69.8" font-size="35.3" text-anchor="middle">0</text>
<text x="430.87" y="69.8" font-size="35.3" text-anchor="middle">10</text>
<text x="551.94" y="69.8" font-size="35.3" text-anchor="middle">20</text>
<text x="673.01" y="69.8" font-size="35.3" text-anchor="middle">30</text>
<text x="794.08" y="69.8" font-size="35.3" text-anchor="middle">40</text>
<text x="915.15" y="69.8" font-size="35.3" text-anchor="middle">50</text>
<text x="1036.22" y="69.8" font-size="35.3" text-anchor="middle">60</text>
<text x="1157.29" y="69.8" font-size="35.3" text-anchor="middle">70</text>
<text x="1278.36" y="69.8" font-size="35.3" text-anchor="middle">80</text>
<text x="1399.43" y="69.8" font-size="35.3" text-anchor="middle">90</text>
<text x="1476" y="874.5" font-size="35.3" text-anchor="middle">0.00</text>
<text x="1610.5" y="874.5" font-size="35.3" text-anchor="middle">0.05</text>
<text x="1745" y="874.5" font-size="35.3" text-anchor="middle">0.10</text>
<text x="1879.5" y="874.5" font-size="35.3" text-anchor="middle">0.15</text>
<text x="153" y="786.45" font-size="35.3" text-anchor="end">10<tspan font-size="24.71" dy="-13" dx="0.3">−5</tspan></text>
<text x="1933" y="786.45" font-size="35.3" text-anchor="start">10<tspan font-size="24.71" dy="-13" dx="0.3">−5</tspan></text>
<text x="153" y="673.9" font-size="35.3" text-anchor="end">10<tspan font-size="24.71" dy="-13" dx="0.3">−4</tspan></text>
<text x="1933" y="673.9" font-size="35.3" text-anchor="start">10<tspan font-size="24.71" dy="-13" dx="0.3">−4</tspan></text>
<text x="153" y="561.35" font-size="35.3" text-anchor="end">10<tspan font-size="24.71" dy="-13" dx="0.3">−3</tspan></text>
<text x="1933" y="561.35" font-size="35.3" text-anchor="start">10<tspan font-size="24.71" dy="-13" dx="0.3">−3</tspan></text>
<text x="153" y="448.8" font-size="35.3" text-anchor="end">10<tspan font-size="24.71" dy="-13" dx="0.3">−2</tspan></text>
<text x="1933" y="448.8" font-size="35.3" text-anchor="start">10<tspan font-size="24.71" dy="-13" dx="0.3">−2</tspan></text>
<text x="153" y="336.25" font-size="35.3" text-anchor="end">10<tspan font-size="24.71" dy="-13" dx="0.3">−1</tspan></text>
<text x="1933" y="336.25" font-size="35.3" text-anchor="start">10<tspan font-size="24.71" dy="-13" dx="0.3">−1</tspan></text>
<text x="153" y="223.7" font-size="35.3" text-anchor="end">10<tspan font-size="24.71" dy="-13" dx="0.3">0</tspan></text>
<text x="1933" y="223.7" font-size="35.3" text-anchor="start">10<tspan font-size="24.71" dy="-13" dx="0.3">0</tspan></text>
<g fill="none"><path d="M180.5 823.7v12.3" stroke="#000" stroke-width="2.8"/><path d="M422.64 823.7v12.3" stroke="#000" stroke-width="2.8"/><path d="M664.78 823.7v12.3" stroke="#000" stroke-width="2.8"/><path d="M906.92 823.7v12.3" stroke="#000" stroke-width="2.8"/><path d="M1149.06 823.7v12.3" stroke="#000" stroke-width="2.8"/><path d="M1391.2 823.7v12.3" stroke="#000" stroke-width="2.8"/><path d="M188.73 102.3v-12.3" stroke="#000" stroke-width="2.8"/><path d="M309.8 102.3v-12.3" stroke="#000" stroke-width="2.8"/><path d="M430.87 102.3v-12.3" stroke="#000" stroke-width="2.8"/><path d="M551.94 102.3v-12.3" stroke="#000" stroke-width="2.8"/><path d="M673.01 102.3v-12.3" stroke="#000" stroke-width="2.8"/><path d="M794.08 102.3v-12.3" stroke="#000" stroke-width="2.8"/><path d="M915.15 102.3v-12.3" stroke="#000" stroke-width="2.8"/><path d="M1036.22 102.3v-12.3" stroke="#000" stroke-width="2.8"/><path d="M1157.29 102.3v-12.3" stroke="#000" stroke-width="2.8"/><path d="M1278.36 102.3v-12.3" stroke="#000" stroke-width="2.8"/><path d="M1399.43 102.3v-12.3" stroke="#000" stroke-width="2.8"/><path d="M1476 823.7v12.3" stroke="#000" stroke-width="2.8"/><path d="M1610.5 823.7v12.3" stroke="#000" stroke-width="2.8"/><path d="M1745 823.7v12.3" stroke="#000" stroke-width="2.8"/><path d="M1879.5 823.7v12.3" stroke="#000" stroke-width="2.8"/><path d="M180.5 818.04h-7.0" stroke="#000" stroke-width="2.1"/><path d="M1908.0 818.04h7.0" stroke="#000" stroke-width="2.1"/><path d="M180.5 807.13h-7.0" stroke="#000" stroke-width="2.1"/><path d="M1908.0 807.13h7.0" stroke="#000" stroke-width="2.1"/><path d="M180.5 798.22h-7.0" stroke="#000" stroke-width="2.1"/><path d="M1908.0 798.22h7.0" stroke="#000" stroke-width="2.1"/><path d="M180.5 790.68h-7.0" stroke="#000" stroke-width="2.1"/><path d="M1908.0 790.68h7.0" stroke="#000" stroke-width="2.1"/><path d="M180.5 784.16h-7.0" stroke="#000" stroke-width="2.1"/><path d="M1908.0 784.16h7.0" stroke="#000" stroke-width="2.1"/><path d="M180.5 778.4h-7.0" stroke="#000" stroke-width="2.1"/><path d="M1908.0 778.4h7.0" stroke="#000" stroke-width="2.1"/><path d="M180.5 773.25h-12.3" stroke="#000" stroke-width="2.8"/><path d="M1908.0 773.25h12.3" stroke="#000" stroke-width="2.8"/><path d="M180.5 739.37h-7.0" stroke="#000" stroke-width="2.1"/><path d="M1908.0 739.37h7.0" stroke="#000" stroke-width="2.1"/><path d="M180.5 719.55h-7.0" stroke="#000" stroke-width="2.1"/><path d="M1908.0 719.55h7.0" stroke="#000" stroke-width="2.1"/><path d="M180.5 705.49h-7.0" stroke="#000" stroke-width="2.1"/><path d="M1908.0 705.49h7.0" stroke="#000" stroke-width="2.1"/><path d="M180.5 694.58h-7.0" stroke="#000" stroke-width="2.1"/><path d="M1908.0 694.58h7.0" stroke="#000" stroke-width="2.1"/><path d="M180.5 685.67h-7.0" stroke="#000" stroke-width="2.1"/><path d="M1908.0 685.67h7.0" stroke="#000" stroke-width="2.1"/><path d="M180.5 678.13h-7.0" stroke="#000" stroke-width="2.1"/><path d="M1908.0 678.13h7.0" stroke="#000" stroke-width="2.1"/><path d="M180.5 671.61h-7.0" stroke="#000" stroke-width="2.1"/><path d="M1908.0 671.61h7.0" stroke="#000" stroke-width="2.1"/><path d="M180.5 665.85h-7.0" stroke="#000" stroke-width="2.1"/><path d="M1908.0 665.85h7.0" stroke="#000" stroke-width="2.1"/><path d="M180.5 660.7h-12.3" stroke="#000" stroke-width="2.8"/><path d="M1908.0 660.7h12.3" stroke="#000" stroke-width="2.8"/><path d="M180.5 626.82h-7.0" stroke="#000" stroke-width="2.1"/><path d="M1908.0 626.82h7.0" stroke="#000" stroke-width="2.1"/><path d="M180.5 607h-7.0" stroke="#000" stroke-width="2.1"/><path d="M1908.0 607h7.0" stroke="#000" stroke-width="2.1"/><path d="M180.5 592.94h-7.0" stroke="#000" stroke-width="2.1"/><path d="M1908.0 592.94h7.0" stroke="#000" stroke-width="2.1"/><path d="M180.5 582.03h-7.0" stroke="#000" stroke-width="2.1"/><path d="M1908.0 582.03h7.0" stroke="#000" stroke-width="2.1"/><path d="M180.5 573.12h-7.0" stroke="#000" stroke-width="2.1"/><path d="M1908.0 573.12h7.0" stroke="#000" stroke-width="2.1"/><path d="M180.5 565.58h-7.0" stroke="#000" stroke-width="2.1"/><path d="M1908.0 565.58h7.0" stroke="#000" stroke-width="2.1"/><path d="M180.5 559.06h-7.0" stroke="#000" stroke-width="2.1"/><path d="M1908.0 559.06h7.0" stroke="#000" stroke-width="2.1"/><path d="M180.5 553.3h-7.0" stroke="#000" stroke-width="2.1"/><path d="M1908.0 553.3h7.0" stroke="#000" stroke-width="2.1"/><path d="M180.5 548.15h-12.3" stroke="#000" stroke-width="2.8"/><path d="M1908.0 548.15h12.3" stroke="#000" stroke-width="2.8"/><path d="M180.5 514.27h-7.0" stroke="#000" stroke-width="2.1"/><path d="M1908.0 514.27h7.0" stroke="#000" stroke-width="2.1"/><path d="M180.5 494.45h-7.0" stroke="#000" stroke-width="2.1"/><path d="M1908.0 494.45h7.0" stroke="#000" stroke-width="2.1"/><path d="M180.5 480.39h-7.0" stroke="#000" stroke-width="2.1"/><path d="M1908.0 480.39h7.0" stroke="#000" stroke-width="2.1"/><path d="M180.5 469.48h-7.0" stroke="#000" stroke-width="2.1"/><path d="M1908.0 469.48h7.0" stroke="#000" stroke-width="2.1"/><path d="M180.5 460.57h-7.0" stroke="#000" stroke-width="2.1"/><path d="M1908.0 460.57h7.0" stroke="#000" stroke-width="2.1"/><path d="M180.5 453.03h-7.0" stroke="#000" stroke-width="2.1"/><path d="M1908.0 453.03h7.0" stroke="#000" stroke-width="2.1"/><path d="M180.5 446.51h-7.0" stroke="#000" stroke-width="2.1"/><path d="M1908.0 446.51h7.0" stroke="#000" stroke-width="2.1"/><path d="M180.5 440.75h-7.0" stroke="#000" stroke-width="2.1"/><path d="M1908.0 440.75h7.0" stroke="#000" stroke-width="2.1"/><path d="M180.5 435.6h-12.3" stroke="#000" stroke-width="2.8"/><path d="M1908.0 435.6h12.3" stroke="#000" stroke-width="2.8"/><path d="M180.5 401.72h-7.0" stroke="#000" stroke-width="2.1"/><path d="M1908.0 401.72h7.0" stroke="#000" stroke-width="2.1"/><path d="M180.5 381.9h-7.0" stroke="#000" stroke-width="2.1"/><path d="M1908.0 381.9h7.0" stroke="#000" stroke-width="2.1"/><path d="M180.5 367.84h-7.0" stroke="#000" stroke-width="2.1"/><path d="M1908.0 367.84h7.0" stroke="#000" stroke-width="2.1"/><path d="M180.5 356.93h-7.0" stroke="#000" stroke-width="2.1"/><path d="M1908.0 356.93h7.0" stroke="#000" stroke-width="2.1"/><path d="M180.5 348.02h-7.0" stroke="#000" stroke-width="2.1"/><path d="M1908.0 348.02h7.0" stroke="#000" stroke-width="2.1"/><path d="M180.5 340.48h-7.0" stroke="#000" stroke-width="2.1"/><path d="M1908.0 340.48h7.0" stroke="#000" stroke-width="2.1"/><path d="M180.5 333.96h-7.0" stroke="#000" stroke-width="2.1"/><path d="M1908.0 333.96h7.0" stroke="#000" stroke-width="2.1"/><path d="M180.5 328.2h-7.0" stroke="#000" stroke-width="2.1"/><path d="M1908.0 328.2h7.0" stroke="#000" stroke-width="2.1"/><path d="M180.5 323.05h-12.3" stroke="#000" stroke-width="2.8"/><path d="M1908.0 323.05h12.3" stroke="#000" stroke-width="2.8"/><path d="M180.5 289.17h-7.0" stroke="#000" stroke-width="2.1"/><path d="M1908.0 289.17h7.0" stroke="#000" stroke-width="2.1"/><path d="M180.5 269.35h-7.0" stroke="#000" stroke-width="2.1"/><path d="M1908.0 269.35h7.0" stroke="#000" stroke-width="2.1"/><path d="M180.5 255.29h-7.0" stroke="#000" stroke-width="2.1"/><path d="M1908.0 255.29h7.0" stroke="#000" stroke-width="2.1"/><path d="M180.5 244.38h-7.0" stroke="#000" stroke-width="2.1"/><path d="M1908.0 244.38h7.0" stroke="#000" stroke-width="2.1"/><path d="M180.5 235.47h-7.0" stroke="#000" stroke-width="2.1"/><path d="M1908.0 235.47h7.0" stroke="#000" stroke-width="2.1"/><path d="M180.5 227.93h-7.0" stroke="#000" stroke-width="2.1"/><path d="M1908.0 227.93h7.0" stroke="#000" stroke-width="2.1"/><path d="M180.5 221.41h-7.0" stroke="#000" stroke-width="2.1"/><path d="M1908.0 221.41h7.0" stroke="#000" stroke-width="2.1"/><path d="M180.5 215.65h-7.0" stroke="#000" stroke-width="2.1"/><path d="M1908.0 215.65h7.0" stroke="#000" stroke-width="2.1"/><path d="M180.5 210.5h-12.3" stroke="#000" stroke-width="2.8"/><path d="M1908.0 210.5h12.3" stroke="#000" stroke-width="2.8"/><path d="M180.5 176.62h-7.0" stroke="#000" stroke-width="2.1"/><path d="M1908.0 176.62h7.0" stroke="#000" stroke-width="2.1"/><path d="M180.5 156.8h-7.0" stroke="#000" stroke-width="2.1"/><path d="M1908.0 156.8h7.0" stroke="#000" stroke-width="2.1"/><path d="M180.5 142.74h-7.0" stroke="#000" stroke-width="2.1"/><path d="M1908.0 142.74h7.0" stroke="#000" stroke-width="2.1"/><path d="M180.5 131.83h-7.0" stroke="#000" stroke-width="2.1"/><path d="M1908.0 131.83h7.0" stroke="#000" stroke-width="2.1"/><path d="M180.5 122.92h-7.0" stroke="#000" stroke-width="2.1"/><path d="M1908.0 122.92h7.0" stroke="#000" stroke-width="2.1"/><path d="M180.5 115.38h-7.0" stroke="#000" stroke-width="2.1"/><path d="M1908.0 115.38h7.0" stroke="#000" stroke-width="2.1"/><path d="M180.5 108.86h-7.0" stroke="#000" stroke-width="2.1"/><path d="M1908.0 108.86h7.0" stroke="#000" stroke-width="2.1"/><path d="M180.5 103.1h-7.0" stroke="#000" stroke-width="2.1"/><path d="M1908.0 103.1h7.0" stroke="#000" stroke-width="2.1"/></g>
<path d="M180.5 100.89999999999999V825.1M1476.0 100.89999999999999V825.1M1908.0 100.89999999999999V825.1M179.1 102.3H1909.4M179.1 823.7H1909.4" stroke="#000" stroke-width="2.8" fill="none"/>
<text x="828.4" y="30" font-size="38.8" text-anchor="middle">Declination (deg.)</text>
<text x="828.4" y="926.4" font-size="38.8" text-anchor="middle">Zenith Angle (deg.)</text>
<text x="1692" y="926.4" font-size="38.8" text-anchor="middle">Prob. Density x Rate</text>
<text transform="translate(48 464.1) rotate(-90)" font-size="38.8" text-anchor="middle">Burst Rate (hr<tspan font-size="27.16" dy="-14" dx="1">−1</tspan><tspan dy="14" dx="1">)</tspan></text>
<text transform="translate(2064.8 464.1) rotate(-90)" font-size="38.8" text-anchor="middle">Burst Rate (hr<tspan font-size="27.16" dy="-14" dx="1">−1</tspan><tspan dy="14" dx="1">)</tspan></text>
<text x="625" y="136" font-size="24.7" fill="#1f77b4">FRB20201124A</text>
<text x="1006" y="233" font-size="24.7" fill="#1f77b4">FRB20180916B</text>
</svg>
</body></html>
